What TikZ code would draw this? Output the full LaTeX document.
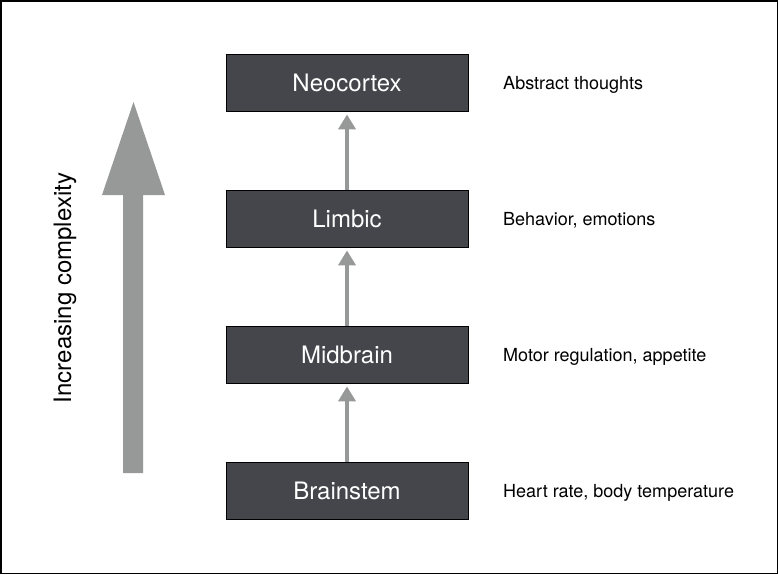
\documentclass[tikz,border=0pt]{standalone}
\usepackage{fontspec}
\setmainfont{TeX Gyre Heros}
\usetikzlibrary{arrows.meta}
\definecolor{boxgray}{RGB}{68,70,76}
\definecolor{arrowgray}{RGB}{151,153,152}
\begin{document}
\begin{tikzpicture}[x=1pt,y=-1pt,
  layer/.style={draw=black,line width=0.8pt,fill=boxgray,text=white,minimum width=242pt,minimum height=57pt,inner sep=0pt,font=\fontsize{24}{28}\selectfont},
  note/.style={anchor=base west,inner sep=0pt,font=\fontsize{18}{21}\selectfont},
  up/.style={draw=arrowgray,line width=4pt,-{Triangle[length=15pt,width=17pt]},shorten >=3pt}]
\useasboundingbox (0,0) rectangle (778,574);
\draw[line width=1.5pt] (0.75,0.75) rectangle (777.25,573.25);
% brain layers
\node[layer](neo) at (347,82.5){Neocortex};
\node[layer](lim) at (347,218.5){Limbic};
\node[layer](mid) at (347,354.5){Midbrain};
\node[layer](stem) at (347,490.5){Brainstem};
\draw[up](lim)--(neo);
\draw[up](mid)--(lim);
\draw[up](stem)--(mid);
% functions
\node[note](neof) at (503,89){Abstract thoughts};
\node[note](limf) at (503,225){Behavior, emotions};
\node[note](midf) at (503,361){Motor regulation, appetite};
\node[note](stemf) at (503,497){Heart rate, body temperature};
% big arrow
\fill[arrowgray](123,473)--(123,195)--(102,195)--(133.5,102)--(165,195)--(143,195)--(143,473)--cycle;
\node[rotate=90,anchor=base,inner sep=0pt,font=\fontsize{24}{28}\selectfont](cplx) at (71,288){Increasing complexity};
\end{tikzpicture}
\end{document}
